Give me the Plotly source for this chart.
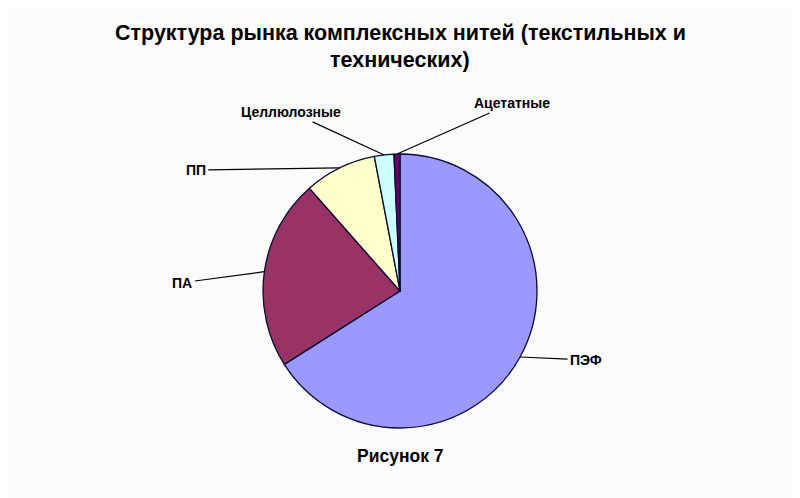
import math
import plotly.graph_objects as go

labels = ["ПЭФ", "ПА", "ПП", "Целлюлозные", "Ацетатные"]
values = [66.0, 22.5, 8.5, 2.3, 0.7]
colors = ["#9999FF", "#993366", "#FFFFCC", "#CCFFFF", "#660066"]
label_offsets = [(66, 3), (-82, 11), (-144, 2), (-93, -43), (115, -51)]

W, H = 800, 498
OFF = 8  # page body margin
cx, cy, r = 400, 291, 137


def px_x(x):
    return (x - OFF) / W


def px_y(y):
    return 1 - (y - OFF) / H


fig = go.Figure(go.Pie(
    labels=labels, values=values, sort=False, direction="clockwise", rotation=0,
    marker=dict(colors=colors, line=dict(color="#0a0a35", width=1.3)),
    textinfo="none", hoverinfo="label+value", showlegend=False,
    domain=dict(x=[px_x(cx - r), px_x(cx + r)], y=[px_y(cy + r), px_y(cy - r)]),
))

annotations = []
total = sum(values)
cum = 0
for lab, v, (ax, ay) in zip(labels, values, label_offsets):
    mid = (cum + v / 2) / total * 2 * math.pi
    cum += v
    px = cx + r * math.sin(mid)
    py = cy - r * math.cos(mid)
    annotations.append(dict(
        x=px_x(px), y=px_y(py), xref="paper", yref="paper",
        text="<b>" + lab + "</b>", showarrow=True, arrowhead=0, arrowwidth=1.2,
        arrowcolor="#000000", ax=ax, ay=ay, standoff=0, startstandoff=1,
        font=dict(family="Liberation Sans", size=14, color="#000000"),
    ))

for text, y, size in [
    ("<b>Структура рынка комплексных нитей (текстильных и</b>", 33, 21.5),
    ("<b>технических)</b>", 60, 21.5),
    ("<b>Рисунок 7</b>", 456, 17.5),
]:
    annotations.append(dict(
        x=px_x(400), y=px_y(y), xref="paper", yref="paper", showarrow=False,
        xanchor="center", yanchor="middle", text=text,
        font=dict(family="Liberation Sans", size=size, color="#000000"),
    ))

fig.update_layout(
    width=W, height=H, margin=dict(l=0, r=0, t=0, b=0),
    paper_bgcolor="#fbfbfb", plot_bgcolor="#fbfbfb",
    annotations=annotations,
)
fig.write_html("out.html")
